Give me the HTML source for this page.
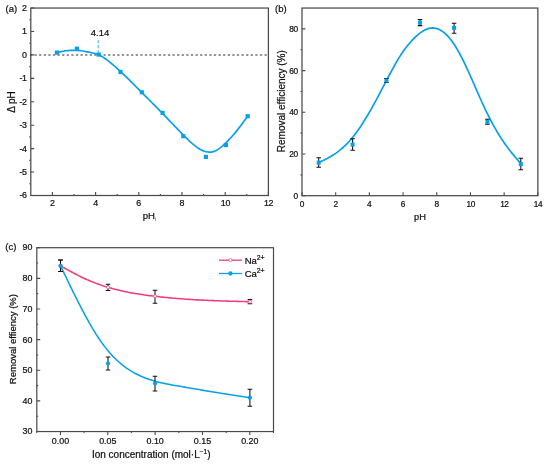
<!DOCTYPE html>
<html lang="en">
<head>
<meta charset="utf-8">
<title>Figure</title>
<style>
html,body{margin:0;padding:0;background:#fff;}
body{width:550px;height:468px;overflow:hidden;}
svg{display:block;}
svg text{font-family:"Liberation Sans",sans-serif;fill:#111;stroke:#111;stroke-width:0.22px;}
</style>
</head>
<body>
<svg width="550" height="468" viewBox="0 0 550 468">
<rect width="550" height="468" fill="#fff"/>
<path d="M29.9 54.9 H268.4" stroke="#959595" stroke-width="2" stroke-dasharray="2.25 2.35" fill="none"/>
<rect x="30.8" y="8.05" width="237.6" height="187.45" fill="none" stroke="#4a4a4a" stroke-width="1.25"/>
<path d="M52.4 195.5 v-3.4 M95.6 195.5 v-3.4 M138.8 195.5 v-3.4 M182 195.5 v-3.4 M225.2 195.5 v-3.4 M268.4 195.5 v-3.4 M74 195.5 v-1.5 M117.2 195.5 v-1.5 M160.4 195.5 v-1.5 M203.6 195.5 v-1.5 M246.8 195.5 v-1.5 M30.8 8.05 h3.4 M30.8 31.48 h3.4 M30.8 54.91 h3.4 M30.8 78.34 h3.4 M30.8 101.77 h3.4 M30.8 125.2 h3.4 M30.8 148.63 h3.4 M30.8 172.06 h3.4 M30.8 195.49 h3.4 M30.8 183.78 h-1.5 M30.8 160.34 h-1.5 M30.8 136.92 h-1.5 M30.8 113.48 h-1.5 M30.8 90.05 h-1.5 M30.8 66.62 h-1.5 M30.8 43.19 h-1.5 M30.8 19.77 h-1.5 " stroke="#4a4a4a" stroke-width="1.1" fill="none"/>
<text x="52.4" y="206.3" text-anchor="middle" font-size="8.9">2</text>
<text x="95.6" y="206.3" text-anchor="middle" font-size="8.9">4</text>
<text x="138.8" y="206.3" text-anchor="middle" font-size="8.9">6</text>
<text x="182" y="206.3" text-anchor="middle" font-size="8.9">8</text>
<text x="225.4" y="206.3" text-anchor="middle" font-size="8.9" letter-spacing="-0.4">10</text>
<text x="268.6" y="206.3" text-anchor="middle" font-size="8.9" letter-spacing="-0.4">12</text>
<text x="27" y="10.95" text-anchor="end" font-size="8.9">2</text>
<text x="27" y="34.38" text-anchor="end" font-size="8.9">1</text>
<text x="27" y="57.81" text-anchor="end" font-size="8.9">0</text>
<text x="26.6" y="81.24" text-anchor="end" font-size="8.9" letter-spacing="-0.4">-1</text>
<text x="26.6" y="104.67" text-anchor="end" font-size="8.9" letter-spacing="-0.4">-2</text>
<text x="26.6" y="128.1" text-anchor="end" font-size="8.9" letter-spacing="-0.4">-3</text>
<text x="26.6" y="151.53" text-anchor="end" font-size="8.9" letter-spacing="-0.4">-4</text>
<text x="26.6" y="174.96" text-anchor="end" font-size="8.9" letter-spacing="-0.4">-5</text>
<text x="26.6" y="198.39" text-anchor="end" font-size="8.9" letter-spacing="-0.4">-6</text>
<text x="149.5" y="219" text-anchor="middle" font-size="9.5">pH<tspan font-size="6" dy="1.8" fill="#444" stroke="none">i</tspan></text>
<text transform="translate(15.1 102) rotate(-90)" text-anchor="middle" font-size="10.0">Δ pH</text>
<path d="M98.2 40 V53.5" stroke="#0aa0e6" stroke-width="0.8" stroke-dasharray="3.4 1.6" fill="none"/>
<text x="100" y="35.7" text-anchor="middle" font-size="9.5">4.14</text>
<path d="M56.9 52.6 L58.5 52.24 L60.11 51.88 L61.71 51.54 L63.31 51.23 L64.92 50.96 L66.52 50.73 L68.12 50.55 L69.73 50.42 L71.33 50.34 L72.93 50.3 L74.54 50.31 L76.14 50.35 L77.74 50.44 L79.35 50.58 L80.95 50.76 L82.55 50.98 L84.16 51.25 L85.76 51.54 L87.36 51.86 L88.97 52.19 L90.57 52.52 L92.17 52.85 L93.78 53.21 L95.38 53.63 L96.98 54.13 L98.59 54.75 L100.19 55.51 L101.79 56.39 L103.4 57.38 L105 58.47 L106.6 59.64 L108.21 60.87 L109.81 62.15 L111.41 63.47 L113.02 64.81 L114.62 66.2 L116.22 67.61 L117.83 69.05 L119.43 70.51 L121.03 72 L122.64 73.51 L124.24 75.04 L125.84 76.58 L127.45 78.14 L129.05 79.72 L130.65 81.31 L132.26 82.9 L133.86 84.51 L135.46 86.12 L137.07 87.73 L138.67 89.35 L140.27 90.96 L141.88 92.58 L143.48 94.19 L145.08 95.8 L146.69 97.41 L148.29 99.01 L149.89 100.62 L151.5 102.23 L153.1 103.84 L154.71 105.46 L156.31 107.08 L157.91 108.7 L159.52 110.33 L161.12 111.98 L162.72 113.63 L164.33 115.29 L165.93 116.95 L167.53 118.63 L169.14 120.3 L170.74 121.98 L172.34 123.66 L173.95 125.34 L175.55 127.02 L177.15 128.69 L178.76 130.35 L180.36 132 L181.96 133.64 L183.57 135.27 L185.17 136.88 L186.77 138.46 L188.38 140.01 L189.98 141.51 L191.58 142.96 L193.19 144.33 L194.79 145.63 L196.39 146.85 L198 147.97 L199.6 148.98 L201.2 149.86 L202.81 150.62 L204.41 151.23 L206.01 151.69 L207.62 151.98 L209.22 152.11 L210.82 152.05 L212.43 151.81 L214.03 151.37 L215.63 150.72 L217.24 149.88 L218.84 148.85 L220.44 147.67 L222.05 146.36 L223.65 144.94 L225.25 143.43 L226.86 141.85 L228.46 140.22 L230.06 138.53 L231.67 136.78 L233.27 134.96 L234.87 133.09 L236.48 131.15 L238.08 129.14 L239.68 127.08 L241.29 124.96 L242.89 122.81 L244.49 120.62 L246.1 118.42 L247.7 116.2" stroke="#0aa0e6" stroke-width="1.7" fill="none" stroke-linejoin="round"/>
<rect x="54.8" y="50.5" width="4.2" height="4.2" fill="#0aa0e6"/>
<rect x="74.8" y="46.6" width="4.2" height="4.2" fill="#0aa0e6"/>
<rect x="96.6" y="52.5" width="4.2" height="4.2" fill="#0aa0e6"/>
<rect x="118.4" y="69.9" width="4.2" height="4.2" fill="#0aa0e6"/>
<rect x="139.7" y="90.2" width="4.2" height="4.2" fill="#0aa0e6"/>
<rect x="160.5" y="110.8" width="4.2" height="4.2" fill="#0aa0e6"/>
<rect x="181.2" y="134.1" width="4.2" height="4.2" fill="#0aa0e6"/>
<rect x="203.8" y="154.8" width="4.2" height="4.2" fill="#0aa0e6"/>
<rect x="223.8" y="143" width="4.2" height="4.2" fill="#0aa0e6"/>
<rect x="245.6" y="114.1" width="4.2" height="4.2" fill="#0aa0e6"/>
<text x="5.5" y="11.7" font-size="9.5">(a)</text>
<rect x="302" y="8.05" width="235.85" height="187.65" fill="none" stroke="#4a4a4a" stroke-width="1.25"/>
<path d="M302 195.7 v-3.4 M335.69 195.7 v-3.4 M369.38 195.7 v-3.4 M403.08 195.7 v-3.4 M436.77 195.7 v-3.4 M470.46 195.7 v-3.4 M504.15 195.7 v-3.4 M537.84 195.7 v-3.4 M302 195.7 h3.4 M302 154 h3.4 M302 112.3 h3.4 M302 70.6 h3.4 M302 28.9 h3.4 M302 174.85 h-1.5 M302 133.15 h-1.5 M302 91.45 h-1.5 M302 49.75 h-1.5 " stroke="#4a4a4a" stroke-width="1.1" fill="none"/>
<text x="302" y="206.8" text-anchor="middle" font-size="8.3">0</text>
<text x="335.69" y="206.8" text-anchor="middle" font-size="8.3">2</text>
<text x="369.38" y="206.8" text-anchor="middle" font-size="8.3">4</text>
<text x="403.08" y="206.8" text-anchor="middle" font-size="8.3">6</text>
<text x="436.77" y="206.8" text-anchor="middle" font-size="8.3">8</text>
<text x="470.66" y="206.8" text-anchor="middle" font-size="8.3" letter-spacing="-0.4">10</text>
<text x="504.35" y="206.8" text-anchor="middle" font-size="8.3" letter-spacing="-0.4">12</text>
<text x="538.04" y="206.8" text-anchor="middle" font-size="8.3" letter-spacing="-0.4">14</text>
<text x="298.2" y="198.6" text-anchor="end" font-size="8.3">0</text>
<text x="297.8" y="156.9" text-anchor="end" font-size="8.3" letter-spacing="-0.4">20</text>
<text x="297.8" y="115.2" text-anchor="end" font-size="8.3" letter-spacing="-0.4">40</text>
<text x="297.8" y="73.5" text-anchor="end" font-size="8.3" letter-spacing="-0.4">60</text>
<text x="297.8" y="31.8" text-anchor="end" font-size="8.3" letter-spacing="-0.4">80</text>
<text x="420" y="219.5" text-anchor="middle" font-size="9.3">pH</text>
<text transform="translate(284.7 101.2) rotate(-90)" text-anchor="middle" font-size="10.0">Removal efficiency (%)</text>
<path d="M318.7 162.6 L320.4 161.8 L322.1 160.99 L323.79 160.17 L325.49 159.32 L327.19 158.44 L328.89 157.53 L330.59 156.57 L332.29 155.56 L333.98 154.48 L335.68 153.34 L337.38 152.13 L339.08 150.84 L340.78 149.46 L342.48 148 L344.17 146.46 L345.87 144.82 L347.57 143.09 L349.27 141.26 L350.97 139.33 L352.67 137.3 L354.36 135.16 L356.06 132.92 L357.76 130.58 L359.46 128.15 L361.16 125.62 L362.86 123.01 L364.55 120.32 L366.25 117.55 L367.95 114.71 L369.65 111.79 L371.35 108.81 L373.05 105.78 L374.74 102.68 L376.44 99.55 L378.14 96.38 L379.84 93.18 L381.54 89.95 L383.24 86.72 L384.93 83.47 L386.63 80.22 L388.33 76.98 L390.03 73.77 L391.73 70.6 L393.43 67.48 L395.12 64.43 L396.82 61.46 L398.52 58.6 L400.22 55.85 L401.92 53.24 L403.62 50.77 L405.31 48.45 L407.01 46.26 L408.71 44.2 L410.41 42.24 L412.11 40.36 L413.81 38.59 L415.5 36.92 L417.2 35.36 L418.9 33.93 L420.6 32.63 L422.3 31.47 L424 30.45 L425.69 29.59 L427.39 28.9 L429.09 28.39 L430.79 28.07 L432.49 27.95 L434.19 28.04 L435.88 28.35 L437.58 28.85 L439.28 29.57 L440.98 30.48 L442.68 31.58 L444.38 32.88 L446.07 34.38 L447.77 36.1 L449.47 38.03 L451.17 40.18 L452.87 42.53 L454.57 45.07 L456.26 47.78 L457.96 50.67 L459.66 53.72 L461.36 56.91 L463.06 60.25 L464.76 63.72 L466.45 67.3 L468.15 70.99 L469.85 74.77 L471.55 78.62 L473.25 82.51 L474.95 86.42 L476.64 90.32 L478.34 94.19 L480.04 98.01 L481.74 101.77 L483.44 105.45 L485.14 109.06 L486.83 112.58 L488.53 116 L490.23 119.33 L491.93 122.56 L493.63 125.68 L495.33 128.7 L497.02 131.62 L498.72 134.44 L500.42 137.16 L502.12 139.78 L503.82 142.3 L505.52 144.73 L507.21 147.06 L508.91 149.31 L510.61 151.48 L512.31 153.6 L514.01 155.66 L515.71 157.68 L517.4 159.67 L519.1 161.64 L520.8 163.6" stroke="#0aa0e6" stroke-width="1.7" fill="none" stroke-linejoin="round"/>
<path d="M318.7 157.7 V167.2 M316.4 157.7 H321 M316.4 167.2 H321" stroke="#111" stroke-width="1.05" fill="none"/>
<rect x="316.7" y="160.6" width="4" height="4" fill="#0aa0e6"/>
<path d="M352.6 138.7 V150.3 M350.3 138.7 H354.9 M350.3 150.3 H354.9" stroke="#111" stroke-width="1.05" fill="none"/>
<rect x="350.6" y="142.6" width="4" height="4" fill="#0aa0e6"/>
<path d="M386.4 78.5 V82.5 M384.1 78.5 H388.7 M384.1 82.5 H388.7" stroke="#111" stroke-width="1.05" fill="none"/>
<rect x="384.4" y="78.5" width="4" height="4" fill="#0aa0e6"/>
<path d="M420 19.5 V25.6 M417.7 19.5 H422.3 M417.7 25.6 H422.3" stroke="#111" stroke-width="1.05" fill="none"/>
<rect x="418" y="20.6" width="4" height="4" fill="#0aa0e6"/>
<path d="M454.1 23.3 V33.3 M451.8 23.3 H456.4 M451.8 33.3 H456.4" stroke="#111" stroke-width="1.05" fill="none"/>
<rect x="452.1" y="25.9" width="4" height="4" fill="#0aa0e6"/>
<path d="M487.4 119.3 V124.3 M485.1 119.3 H489.7 M485.1 124.3 H489.7" stroke="#111" stroke-width="1.05" fill="none"/>
<rect x="485.4" y="119.8" width="4" height="4" fill="#0aa0e6"/>
<path d="M520.8 158.2 V169.7 M518.5 158.2 H523.1 M518.5 169.7 H523.1" stroke="#111" stroke-width="1.05" fill="none"/>
<rect x="518.8" y="162.1" width="4" height="4" fill="#0aa0e6"/>
<text x="275" y="11.7" font-size="9.5">(b)</text>
<rect x="36.8" y="247.7" width="236.7" height="183.85" fill="none" stroke="#4a4a4a" stroke-width="1.2"/>
<path d="M60.47 431.55 v3.4 M107.81 431.55 v3.4 M155.15 431.55 v3.4 M202.49 431.55 v3.4 M249.83 431.55 v3.4 M36.8 431.55 v1.4 M84.14 431.55 v1.4 M131.48 431.55 v1.4 M178.82 431.55 v1.4 M226.16 431.55 v1.4 M273.5 431.55 v1.4 M36.8 431.55 h3.4 M36.8 400.91 h3.4 M36.8 370.27 h3.4 M36.8 339.62 h3.4 M36.8 308.98 h3.4 M36.8 278.34 h3.4 M36.8 247.7 h3.4 M36.8 416.23 h1.4 M36.8 385.59 h1.4 M36.8 354.94 h1.4 M36.8 324.3 h1.4 M36.8 293.66 h1.4 M36.8 263.02 h1.4 " stroke="#4a4a4a" stroke-width="1.1" fill="none"/>
<text x="60.47" y="444.4" text-anchor="middle" font-size="8.9">0.00</text>
<text x="107.81" y="444.4" text-anchor="middle" font-size="8.9">0.05</text>
<text x="155.15" y="444.4" text-anchor="middle" font-size="8.9">0.10</text>
<text x="202.49" y="444.4" text-anchor="middle" font-size="8.9">0.15</text>
<text x="249.83" y="444.4" text-anchor="middle" font-size="8.9">0.20</text>
<text x="32.4" y="434.45" text-anchor="end" font-size="8.9">30</text>
<text x="32.4" y="403.81" text-anchor="end" font-size="8.9">40</text>
<text x="32.4" y="373.17" text-anchor="end" font-size="8.9">50</text>
<text x="32.4" y="342.52" text-anchor="end" font-size="8.9">60</text>
<text x="32.4" y="311.88" text-anchor="end" font-size="8.9">70</text>
<text x="32.4" y="281.24" text-anchor="end" font-size="8.9">80</text>
<text x="32.4" y="249.8" text-anchor="end" font-size="8.9">90</text>
<text x="151.2" y="457.7" text-anchor="middle" font-size="10">Ion concentration (mol·L<tspan font-size="6.5" dy="-3.5">−1</tspan><tspan dy="3.5">)</tspan></text>
<text transform="translate(16.1 339.1) rotate(-90)" text-anchor="middle" font-size="9.5">Removal effiency (%)</text>
<path d="M60.5 265.8 L62.09 266.7 L63.68 267.6 L65.27 268.49 L66.87 269.38 L68.46 270.27 L70.05 271.15 L71.64 272.01 L73.23 272.87 L74.82 273.72 L76.42 274.55 L78.01 275.37 L79.6 276.18 L81.19 276.96 L82.78 277.73 L84.37 278.47 L85.97 279.2 L87.56 279.9 L89.15 280.58 L90.74 281.25 L92.33 281.89 L93.92 282.52 L95.52 283.12 L97.11 283.71 L98.7 284.28 L100.29 284.84 L101.88 285.37 L103.47 285.9 L105.06 286.4 L106.66 286.9 L108.25 287.37 L109.84 287.84 L111.43 288.29 L113.02 288.72 L114.61 289.15 L116.21 289.56 L117.8 289.96 L119.39 290.34 L120.98 290.72 L122.57 291.08 L124.16 291.43 L125.76 291.77 L127.35 292.09 L128.94 292.41 L130.53 292.71 L132.12 293.01 L133.71 293.29 L135.31 293.56 L136.9 293.83 L138.49 294.08 L140.08 294.33 L141.67 294.57 L143.26 294.8 L144.85 295.02 L146.45 295.24 L148.04 295.45 L149.63 295.65 L151.22 295.85 L152.81 296.04 L154.4 296.23 L156 296.41 L157.59 296.59 L159.18 296.77 L160.77 296.94 L162.36 297.11 L163.95 297.27 L165.55 297.43 L167.14 297.59 L168.73 297.74 L170.32 297.88 L171.91 298.03 L173.5 298.17 L175.09 298.3 L176.69 298.44 L178.28 298.57 L179.87 298.69 L181.46 298.81 L183.05 298.93 L184.64 299.05 L186.24 299.16 L187.83 299.27 L189.42 299.38 L191.01 299.48 L192.6 299.58 L194.19 299.67 L195.79 299.77 L197.38 299.86 L198.97 299.94 L200.56 300.03 L202.15 300.11 L203.74 300.19 L205.34 300.27 L206.93 300.34 L208.52 300.41 L210.11 300.48 L211.7 300.55 L213.29 300.61 L214.88 300.67 L216.48 300.73 L218.07 300.79 L219.66 300.85 L221.25 300.9 L222.84 300.96 L224.43 301.01 L226.03 301.06 L227.62 301.11 L229.21 301.16 L230.8 301.2 L232.39 301.25 L233.98 301.29 L235.58 301.34 L237.17 301.38 L238.76 301.42 L240.35 301.46 L241.94 301.5 L243.53 301.54 L245.13 301.58 L246.72 301.62 L248.31 301.66 L249.9 301.7" stroke="#f03c78" stroke-width="1.55" fill="none"/>
<path d="M60.5 265.8 L62.09 269.1 L63.68 272.4 L65.27 275.71 L66.87 279 L68.46 282.29 L70.05 285.56 L71.64 288.82 L73.23 292.06 L74.82 295.27 L76.42 298.46 L78.01 301.61 L79.6 304.74 L81.19 307.82 L82.78 310.86 L84.37 313.86 L85.97 316.81 L87.56 319.71 L89.15 322.55 L90.74 325.33 L92.33 328.05 L93.92 330.71 L95.52 333.29 L97.11 335.8 L98.7 338.23 L100.29 340.58 L101.88 342.85 L103.47 345.03 L105.06 347.12 L106.66 349.13 L108.25 351.06 L109.84 352.91 L111.43 354.68 L113.02 356.38 L114.61 358 L116.21 359.56 L117.8 361.04 L119.39 362.46 L120.98 363.81 L122.57 365.11 L124.16 366.34 L125.76 367.51 L127.35 368.63 L128.94 369.7 L130.53 370.71 L132.12 371.67 L133.71 372.59 L135.31 373.46 L136.9 374.29 L138.49 375.07 L140.08 375.82 L141.67 376.53 L143.26 377.2 L144.85 377.84 L146.45 378.45 L148.04 379.02 L149.63 379.56 L151.22 380.08 L152.81 380.57 L154.4 381.03 L156 381.47 L157.59 381.89 L159.18 382.29 L160.77 382.66 L162.36 383.03 L163.95 383.37 L165.55 383.7 L167.14 384.02 L168.73 384.33 L170.32 384.63 L171.91 384.92 L173.5 385.2 L175.09 385.48 L176.69 385.76 L178.28 386.03 L179.87 386.31 L181.46 386.58 L183.05 386.85 L184.64 387.13 L186.24 387.4 L187.83 387.68 L189.42 387.95 L191.01 388.22 L192.6 388.5 L194.19 388.77 L195.79 389.04 L197.38 389.31 L198.97 389.58 L200.56 389.85 L202.15 390.12 L203.74 390.39 L205.34 390.66 L206.93 390.93 L208.52 391.2 L210.11 391.46 L211.7 391.73 L213.29 391.99 L214.88 392.25 L216.48 392.52 L218.07 392.78 L219.66 393.04 L221.25 393.29 L222.84 393.55 L224.43 393.81 L226.03 394.06 L227.62 394.32 L229.21 394.57 L230.8 394.82 L232.39 395.07 L233.98 395.32 L235.58 395.56 L237.17 395.81 L238.76 396.05 L240.35 396.29 L241.94 396.53 L243.53 396.77 L245.13 397 L246.72 397.24 L248.31 397.47 L249.9 397.7" stroke="#0aa0e6" stroke-width="1.55" fill="none"/>
<path d="M60.5 259.9 V271.4 M58.2 259.9 H62.8 M58.2 271.4 H62.8" stroke="#111" stroke-width="1.05" fill="none"/>
<circle cx="60.5" cy="265.8" r="1.6" fill="#fff" stroke="#f03c78" stroke-width="0.7"/>
<path d="M108 284.3 V290.4 M105.7 284.3 H110.3 M105.7 290.4 H110.3" stroke="#111" stroke-width="1.05" fill="none"/>
<circle cx="108" cy="287.3" r="1.6" fill="#fff" stroke="#f03c78" stroke-width="0.7"/>
<path d="M155 290.2 V303.2 M152.7 290.2 H157.3 M152.7 303.2 H157.3" stroke="#111" stroke-width="1.05" fill="none"/>
<circle cx="155" cy="296.3" r="1.6" fill="#fff" stroke="#f03c78" stroke-width="0.7"/>
<path d="M249.9 299.6 V303.7 M247.6 299.6 H252.2 M247.6 303.7 H252.2" stroke="#111" stroke-width="1.05" fill="none"/>
<circle cx="249.9" cy="301.7" r="1.6" fill="#fff" stroke="#f03c78" stroke-width="0.7"/>
<path d="M60.5 259.9 V271.4 M58.2 259.9 H62.8 M58.2 271.4 H62.8" stroke="#111" stroke-width="1.05" fill="none"/>
<circle cx="60.5" cy="265.8" r="2.15" fill="#0aa0e6"/>
<path d="M108 357 V370 M105.7 357 H110.3 M105.7 370 H110.3" stroke="#111" stroke-width="1.05" fill="none"/>
<circle cx="108" cy="363.4" r="2.15" fill="#0aa0e6"/>
<path d="M155 376.2 V391 M152.7 376.2 H157.3 M152.7 391 H157.3" stroke="#111" stroke-width="1.05" fill="none"/>
<circle cx="155" cy="383.4" r="2.15" fill="#0aa0e6"/>
<path d="M249.9 389.3 V406.2 M247.6 389.3 H252.2 M247.6 406.2 H252.2" stroke="#111" stroke-width="1.05" fill="none"/>
<circle cx="249.9" cy="397.7" r="2.15" fill="#0aa0e6"/>
<path d="M219 260.2 H241.9" stroke="#f03c78" stroke-width="1.3"/>
<circle cx="230.4" cy="260.2" r="1.6" fill="#fff" stroke="#f03c78" stroke-width="0.7"/>
<path d="M219 273.5 H241.9" stroke="#0aa0e6" stroke-width="1.3"/>
<circle cx="230.4" cy="273.5" r="2.15" fill="#0aa0e6"/>
<text x="244.7" y="263.6" font-size="9.5">Na<tspan font-size="6.8" dy="-3.9">2+</tspan></text>
<text x="244.7" y="276.9" font-size="9.5">Ca<tspan font-size="6.8" dy="-3.9">2+</tspan></text>
<text x="5.3" y="250.2" font-size="9.5">(c)</text>
</svg>
</body>
</html>
